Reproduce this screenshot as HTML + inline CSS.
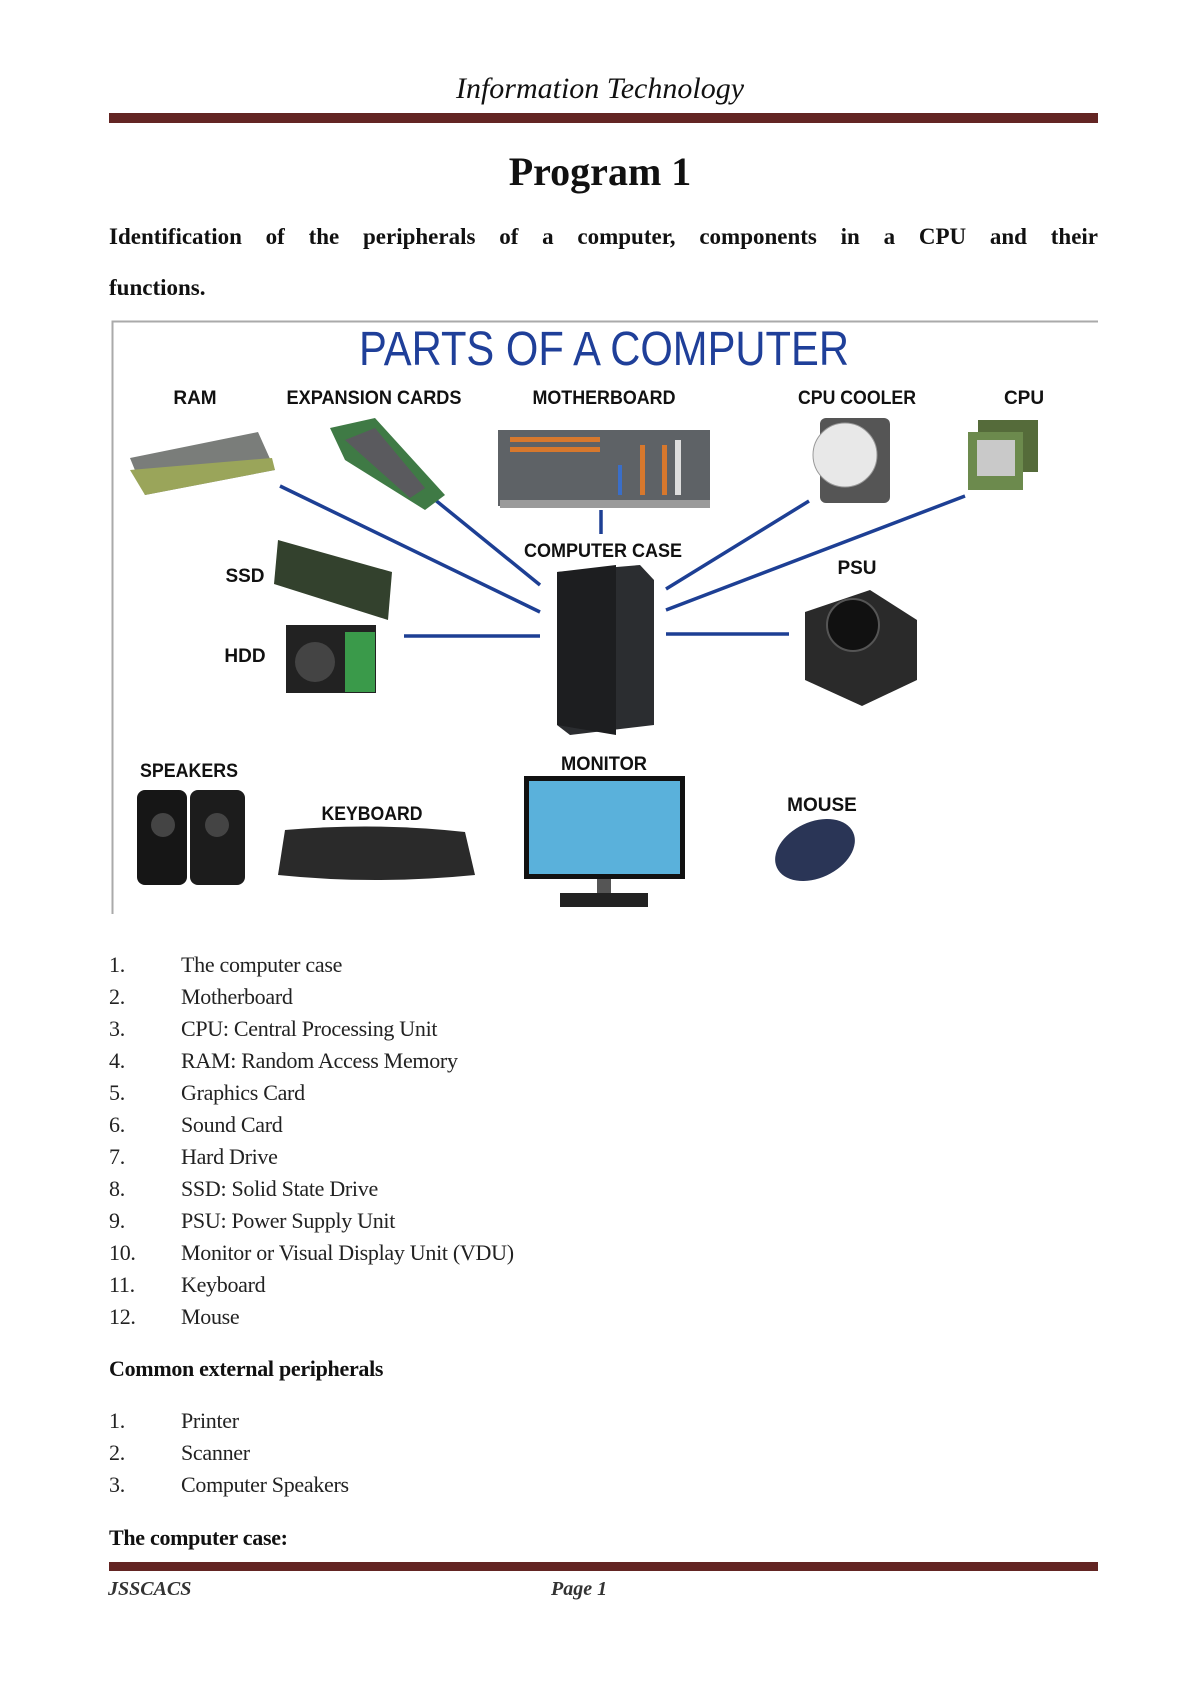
<!DOCTYPE html>
<html><head><meta charset="utf-8"><style>
body{margin:0;background:#fff}
#p{position:relative;width:1200px;height:1698px;overflow:hidden;font-family:"Liberation Serif",serif;color:#111}
.a{position:absolute;white-space:nowrap}
.bar{position:absolute;left:109px;width:989px;background:#632523}
.li{position:absolute;font-size:22px;color:#222;letter-spacing:-0.3px;white-space:nowrap}
.li span{position:absolute;left:72px;white-space:nowrap}
</style></head><body><div id="p">
<div class="a" style="left:0;width:1200px;text-align:center;top:72px;font-size:30px;font-style:italic;">Information Technology</div>
<div class="bar" style="top:113px;height:10px"></div>
<div class="a" style="left:0;width:1200px;text-align:center;top:148px;font-size:40px;font-weight:bold;">Program 1</div>
<div class="a" style="left:109px;width:989px;top:224px;font-size:23px;font-weight:bold;text-align:justify;text-align-last:justify;white-space:normal">Identification of the peripherals of a computer, components in a CPU and their</div>
<div class="a" style="left:109px;top:275px;font-size:23px;font-weight:bold">functions.</div>

<svg class="a" style="left:0;top:0" width="1200" height="1698">
<path d="M112.5 914 V321.5 H1098" fill="none" stroke="#aaa" stroke-width="2"/>
<text x="604" y="365" font-family="Liberation Sans,sans-serif" font-size="48" fill="#1f3f99" text-anchor="middle" textLength="490" lengthAdjust="spacingAndGlyphs">PARTS OF A COMPUTER</text>
<g font-family="Liberation Sans,sans-serif" font-weight="bold" font-size="19" fill="#111" text-anchor="middle">
<text x="195" y="404">RAM</text>
<text x="374" y="404" textLength="175" lengthAdjust="spacingAndGlyphs">EXPANSION CARDS</text>
<text x="604" y="404" textLength="143" lengthAdjust="spacingAndGlyphs">MOTHERBOARD</text>
<text x="857" y="404" textLength="118" lengthAdjust="spacingAndGlyphs">CPU COOLER</text>
<text x="1024" y="404">CPU</text>
<text x="603" y="557" textLength="158" lengthAdjust="spacingAndGlyphs">COMPUTER CASE</text>
<text x="245" y="582">SSD</text>
<text x="857" y="574">PSU</text>
<text x="245" y="662">HDD</text>
<text x="189" y="777" textLength="98" lengthAdjust="spacingAndGlyphs">SPEAKERS</text>
<text x="604" y="770" textLength="86" lengthAdjust="spacingAndGlyphs">MONITOR</text>
<text x="372" y="820" textLength="101" lengthAdjust="spacingAndGlyphs">KEYBOARD</text>
<text x="822" y="811">MOUSE</text>
</g>
<g stroke="#1d3f94" stroke-width="3.5">
<line x1="280" y1="486" x2="540" y2="612"/>
<line x1="434" y1="499" x2="540" y2="585"/>
<line x1="601" y1="510" x2="601" y2="534"/>
<line x1="809" y1="501" x2="666" y2="589"/>
<line x1="965" y1="496" x2="666" y2="610"/>
<line x1="404" y1="636" x2="540" y2="636"/>
<line x1="666" y1="634" x2="789" y2="634"/>
</g>
<g><polygon points="130,458 258,432 275,470 145,495" fill="#7a7d7a"/><polygon points="130,470 145,495 275,470 272,458" fill="#9aa55a"/></g>
<polygon points="330,428 375,418 445,495 425,510 345,460" fill="#3f7a45"/><polygon points="345,440 375,428 425,488 410,498" fill="#5a5a5e"/>
<rect x="498" y="430" width="212" height="76" fill="#5e6266"/><rect x="500" y="500" width="210" height="8" fill="#9a9a9a"/>
<rect x="510" y="437" width="90" height="5" fill="#d7782d"/><rect x="510" y="447" width="90" height="5" fill="#d7782d"/>
<rect x="640" y="445" width="5" height="50" fill="#d7782d"/><rect x="662" y="445" width="5" height="50" fill="#d7782d"/><rect x="618" y="465" width="4" height="30" fill="#3a6ec8"/><rect x="675" y="440" width="6" height="55" fill="#ddd"/>
<rect x="820" y="418" width="70" height="85" rx="6" fill="#555"/><circle cx="845" cy="455" r="32" fill="#e8e8e8" stroke="#999"/>
<rect x="978" y="420" width="60" height="52" fill="#556b3a"/><rect x="968" y="432" width="55" height="58" fill="#6c8a4d"/><rect x="977" y="440" width="38" height="36" fill="#c9c9c9"/>
<polygon points="278,540 392,572 388,620 274,584" fill="#33412d"/>
<rect x="286" y="625" width="90" height="68" fill="#222"/><rect x="345" y="632" width="30" height="60" fill="#3a9a4a"/><circle cx="315" cy="662" r="20" fill="#444"/>
<polygon points="557,572 640,565 654,580 654,725 570,735 557,725" fill="#2b2d30"/><polygon points="557,572 616,565 616,735 557,725" fill="#1d1e20"/>
<polygon points="805,612 870,590 917,620 917,680 862,706 805,680" fill="#2a2a2a"/><circle cx="853" cy="625" r="26" fill="#111" stroke="#555" stroke-width="2"/>
<rect x="137" y="790" width="50" height="95" rx="8" fill="#161616"/><rect x="190" y="790" width="55" height="95" rx="8" fill="#1c1c1c"/><circle cx="163" cy="825" r="12" fill="#444"/><circle cx="217" cy="825" r="12" fill="#444"/>
<path d="M285 830 Q375 822 465 832 L475 875 Q375 885 278 875 Z" fill="#2a2a2a"/>
<rect x="524" y="776" width="161" height="103" fill="#111"/><rect x="529" y="781" width="151" height="93" fill="#5ab1db"/><rect x="597" y="879" width="14" height="18" fill="#555"/><rect x="560" y="893" width="88" height="14" fill="#222"/>
<ellipse cx="815" cy="850" rx="42" ry="28" fill="#2a3556" transform="rotate(-25 815 850)"/>
</svg>

<div class="li" style="left:109px;top:952px">1.<span>The computer case</span></div>
<div class="li" style="left:109px;top:984px">2.<span>Motherboard</span></div>
<div class="li" style="left:109px;top:1016px">3.<span>CPU: Central Processing Unit</span></div>
<div class="li" style="left:109px;top:1048px">4.<span>RAM: Random Access Memory</span></div>
<div class="li" style="left:109px;top:1080px">5.<span>Graphics Card</span></div>
<div class="li" style="left:109px;top:1112px">6.<span>Sound Card</span></div>
<div class="li" style="left:109px;top:1144px">7.<span>Hard Drive</span></div>
<div class="li" style="left:109px;top:1176px">8.<span>SSD: Solid State Drive</span></div>
<div class="li" style="left:109px;top:1208px">9.<span>PSU: Power Supply Unit</span></div>
<div class="li" style="left:109px;top:1240px">10.<span>Monitor or Visual Display Unit (VDU)</span></div>
<div class="li" style="left:109px;top:1272px">11.<span>Keyboard</span></div>
<div class="li" style="left:109px;top:1304px">12.<span>Mouse</span></div>
<div class="a" style="left:109px;top:1356px;font-size:22px;font-weight:bold;letter-spacing:-0.3px">Common external peripherals</div>
<div class="li" style="left:109px;top:1408px">1.<span>Printer</span></div>
<div class="li" style="left:109px;top:1440px">2.<span>Scanner</span></div>
<div class="li" style="left:109px;top:1472px">3.<span>Computer Speakers</span></div>
<div class="a" style="left:109px;top:1525px;font-size:22px;font-weight:bold;letter-spacing:-0.3px">The computer case:</div>
<div class="bar" style="top:1562px;height:9px"></div>
<div class="a" style="left:108px;top:1578px;font-size:20px;font-style:italic;font-weight:bold;color:#333">JSSCACS</div>
<div class="a" style="left:551px;top:1578px;font-size:20px;font-style:italic;font-weight:bold;color:#333">Page 1</div>
</div></body></html>
